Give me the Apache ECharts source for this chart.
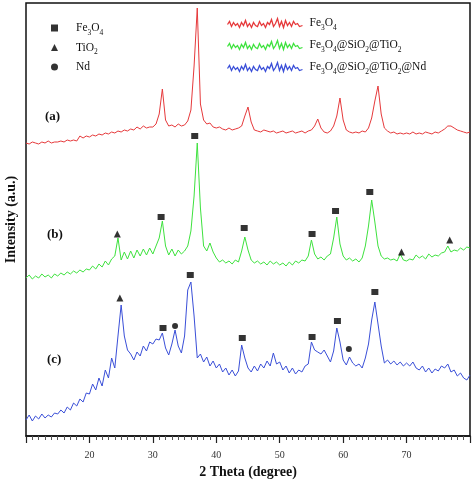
<!DOCTYPE html>
<html>
<head>
<meta charset="utf-8">
<script src="https://cdn.jsdelivr.net/npm/echarts@6/dist/echarts.min.js"></script>
<style>
  html, body { margin: 0; padding: 0; background: #fff; }
  #chart { width: 474px; height: 486px; }
</style>
</head>
<body>
<div id="chart"></div>
<script>
// 2 theta (degree)
const theta = [
  10, 10.5, 11, 11.5, 12, 12.5, 13, 13.5, 14, 14.5,
  15, 15.5, 16, 16.5, 17, 17.5, 18, 18.5, 19, 19.5,
  20, 20.5, 21, 21.5, 22, 22.5, 23, 23.5, 24, 24.5,
  25, 25.5, 26, 26.5, 27, 27.5, 28, 28.5, 29, 29.5,
  30, 30.5, 31, 31.5, 32, 32.5, 33, 33.5, 34, 34.5,
  35, 35.5, 36, 36.5, 37, 37.5, 38, 38.5, 39, 39.5,
  40, 40.5, 41, 41.5, 42, 42.5, 43, 43.5, 44, 44.5,
  45, 45.5, 46, 46.5, 47, 47.5, 48, 48.5, 49, 49.5,
  50, 50.5, 51, 51.5, 52, 52.5, 53, 53.5, 54, 54.5,
  55, 55.5, 56, 56.5, 57, 57.5, 58, 58.5, 59, 59.5,
  60, 60.5, 61, 61.5, 62, 62.5, 63, 63.5, 64, 64.5,
  65, 65.5, 66, 66.5, 67, 67.5, 68, 68.5, 69, 69.5,
  70, 70.5, 71, 71.5, 72, 72.5, 73, 73.5, 74, 74.5,
  75, 75.5, 76, 76.5, 77, 77.5, 78, 78.5, 79, 79.5,
  80
];

// (a) Fe3O4
const intensityA = [
  293, 292, 294, 293, 292, 294, 293, 295, 293, 294,
  294, 295, 294, 296, 295, 296, 295, 300, 298, 300,
  299, 301, 300, 302, 301, 303, 302, 304, 303, 305,
  304, 306, 305, 307, 306, 309, 307, 310, 308, 309,
  309, 312, 322, 347, 316, 310, 311, 309, 312, 310,
  311, 315, 326, 370, 428, 332, 316, 312, 313, 309,
  308, 309, 307, 306, 308, 306, 307, 308, 310, 320,
  329, 314, 306, 305, 304, 306, 305, 304, 305, 303,
  304, 305, 303, 304, 305, 303, 304, 305, 303, 305,
  306, 310, 317, 308, 304, 303, 305, 310, 320, 338,
  316, 306, 304, 303, 304, 303, 305, 304, 308, 318,
  335, 350, 322, 308, 305, 303, 304, 302, 303, 302,
  303, 302, 304, 302, 303, 302, 304, 303, 302, 304,
  303, 305, 307, 310, 310, 308, 306, 305, 304, 303,
  304
];

// (b) Fe3O4@SiO2@TiO2
const intensityB = [
  158, 161, 157, 160, 158, 162, 159, 161, 158, 162,
  160, 163, 161, 164, 162, 165, 163, 166, 164, 167,
  166, 170, 167, 172, 169, 175, 171, 177, 180, 198,
  176, 184, 177, 185, 178, 186, 180, 187, 181, 188,
  182, 190, 198, 215, 190, 181, 187, 180, 186, 182,
  185, 190, 205, 240, 293, 228, 190, 185, 193, 184,
  178, 174, 176, 173, 175, 172, 176, 174, 185, 199,
  186, 176, 173, 175, 172, 174, 171, 175, 172, 174,
  171, 173, 170, 174, 171, 175, 173, 176, 175, 180,
  196, 182, 177, 179, 176, 180, 182, 198, 219, 192,
  180, 176, 178, 175, 177, 174, 178, 190, 210, 236,
  214, 190, 180, 177, 178, 176, 177, 175, 182, 176,
  175, 177, 176, 181, 178, 180, 177, 182, 179, 181,
  180, 183, 184, 190, 184, 186, 185, 188, 186, 189,
  188
];

// (c) Fe3O4@SiO2@TiO2@Nd
const intensityC = [
  16, 21, 15, 20, 17, 22, 18, 21, 19, 23,
  22, 26, 23, 29, 26, 33, 30, 37, 34, 43,
  42, 52, 46, 58, 50, 66, 58, 78, 68, 100,
  131, 100, 86, 82, 76, 84, 80, 90, 85, 94,
  92, 97, 96, 103, 88, 81, 92, 106, 90, 83,
  100, 146, 154, 120, 78, 82, 74, 79, 70, 75,
  68, 72, 64, 68, 61, 66, 60, 65, 91, 78,
  68, 64, 70, 65, 72, 68, 75, 70, 83, 72,
  74, 66, 70, 63, 68, 62, 66, 64, 70, 72,
  94, 86, 84, 82, 86, 80, 74, 85, 108, 94,
  76, 71, 79, 73, 70, 72, 68, 78, 92, 116,
  134, 112, 90, 73, 76, 72, 75, 71, 74, 70,
  73, 70, 74, 68, 66, 70, 64, 68, 63, 67,
  65, 70, 68, 72, 64, 66, 60, 63, 58, 56,
  61
];

// phase markers [2theta, intensity]
const fe3o4Marks = [
  [36.6, 300], [31.3, 219], [44.4, 208], [55.1, 202], [58.8, 225], [64.2, 244],
  [35.9, 161], [65.0, 144], [31.6, 108], [44.1, 98], [55.1, 99], [59.1, 115]
];
const tio2Marks = [[24.4, 202], [69.2, 184], [76.8, 196], [24.8, 138]];
const ndMarks = [[33.5, 110], [60.9, 87]];

const xTicks = [20, 30, 40, 50, 60, 70];

const colors = { a: '#e6393b', b: '#3ee23e', c: '#3a4fd8' };

const legendText = {
  Fe3O4: 'Fe{s|3}O{s|4}',
  TiO2: 'TiO{s|2}',
  Nd: 'Nd',
  a: 'Fe{s|3}O{s|4}',
  b: 'Fe{s|3}O{s|4}@SiO{s|2}@TiO{s|2}',
  c: 'Fe{s|3}O{s|4}@SiO{s|2}@TiO{s|2}@Nd'
};

const serif = '"Liberation Serif", "DejaVu Serif", serif';
// wiggly legend stroke
const wave = 'path://M0,6L2,3L4,8L6,4L8,7L10,5L12,9L14,4L16,7L18,2L20,8L22,5L24,9L26,4L28,7L30,8L32,3L34,7L36,5L38,9L40,4L42,6L44,1L46,8L48,5L50,0L52,8L54,3L56,9L58,2L60,7L62,4L64,8L66,3L68,6L70,5L72,8L75,7';

const legendTextStyle = {
  fontFamily: serif,
  fontSize: 11.5,
  color: '#111',
  lineHeight: 18,
  rich: {
    s: { fontFamily: serif, fontSize: 7.5, color: '#111', lineHeight: 18, verticalAlign: 'bottom' }
  }
};

const pairs = vals => theta.map((t, i) => [t, vals[i]]);

const myChart = echarts.init(document.getElementById('chart'), null, { renderer: 'canvas' });

const option = {
  animation: false,
  backgroundColor: '#fff',
  grid: {
    left: 26, right: 4, top: 3, bottom: 50,
    outerBoundsMode: 'none',
    containLabel: false,
    show: true, borderColor: '#111', borderWidth: 1.5
  },
  legend: [
    {
      data: ['Fe3O4', 'TiO2', 'Nd'],
      orient: 'vertical',
      left: 51, top: 19, padding: 0,
      itemWidth: 7, itemHeight: 7, itemGap: 1.5,
      formatter: n => legendText[n],
      textStyle: Object.assign({ padding: [0, 0, 0, 13] }, legendTextStyle)
    },
    {
      data: ['a', 'b', 'c'].map(k => ({
        name: k,
        icon: wave,
        itemStyle: { color: 'none', borderColor: colors[k], borderWidth: 1.3 }
      })),
      orient: 'vertical',
      left: 225, top: 14, padding: 0,
      itemWidth: 75, itemHeight: 10, itemGap: 4,
      formatter: n => legendText[n],
      textStyle: Object.assign({ padding: [0, 0, 0, 2] }, legendTextStyle)
    }
  ],
  xAxis: {
    type: 'value',
    min: 10, max: 80, interval: 10,
    name: '2 Theta (degree)',
    nameLocation: 'middle',
    nameGap: 29,
    nameTextStyle: { fontFamily: serif, fontSize: 14, fontWeight: 'bold', color: '#111' },
    axisLine: { show: true, lineStyle: { color: '#111', width: 1.5 } },
    axisTick: { show: true, inside: false, length: 7, lineStyle: { color: '#222', width: 1.2 } },
    minorTick: { show: true, splitNumber: 10, length: 4, lineStyle: { color: '#555' } },
    axisLabel: {
      margin: 14,
      fontFamily: serif, fontSize: 10, color: '#333',
      formatter: v => (xTicks.indexOf(v) >= 0 ? String(v) : '')
    },
    splitLine: { show: false }
  },
  yAxis: {
    type: 'value',
    min: 0, max: 433,
    name: 'Intensity (a.u.)',
    nameLocation: 'middle',
    nameGap: 8,
    nameTextStyle: { fontFamily: serif, fontSize: 14, fontWeight: 'bold', color: '#111' },
    axisLine: { show: false },
    axisTick: { show: false },
    axisLabel: { show: false },
    splitLine: { show: false }
  },
  series: [
    {
      name: 'c', type: 'line', data: pairs(intensityC), color: colors.c,
      showSymbol: false, symbol: 'none', lineStyle: { width: 1 }
    },
    {
      name: 'b', type: 'line', data: pairs(intensityB), color: colors.b,
      showSymbol: false, symbol: 'none', lineStyle: { width: 1 }
    },
    {
      name: 'a', type: 'line', data: pairs(intensityA), color: colors.a,
      showSymbol: false, symbol: 'none', lineStyle: { width: 1 }
    },
    {
      name: 'Fe3O4', type: 'scatter', data: fe3o4Marks, color: '#000',
      symbol: 'rect', symbolSize: [7, 6], z: 5
    },
    {
      name: 'TiO2', type: 'scatter', data: tio2Marks, color: '#000',
      symbol: 'triangle', symbolSize: 7, z: 5
    },
    {
      name: 'Nd', type: 'scatter', data: ndMarks, color: '#000',
      symbol: 'circle', symbolSize: 6, z: 5
    }
  ],
  graphic: [
    { type: 'text', left: 45, top: 110, style: { text: '(a)', font: 'bold 13px ' + serif, fill: '#111' } },
    { type: 'text', left: 47, top: 228, style: { text: '(b)', font: 'bold 13px ' + serif, fill: '#111' } },
    { type: 'text', left: 47, top: 353, style: { text: '(c)', font: 'bold 13px ' + serif, fill: '#111' } }
  ]
};

myChart.setOption(option);
</script>
</body>
</html>
